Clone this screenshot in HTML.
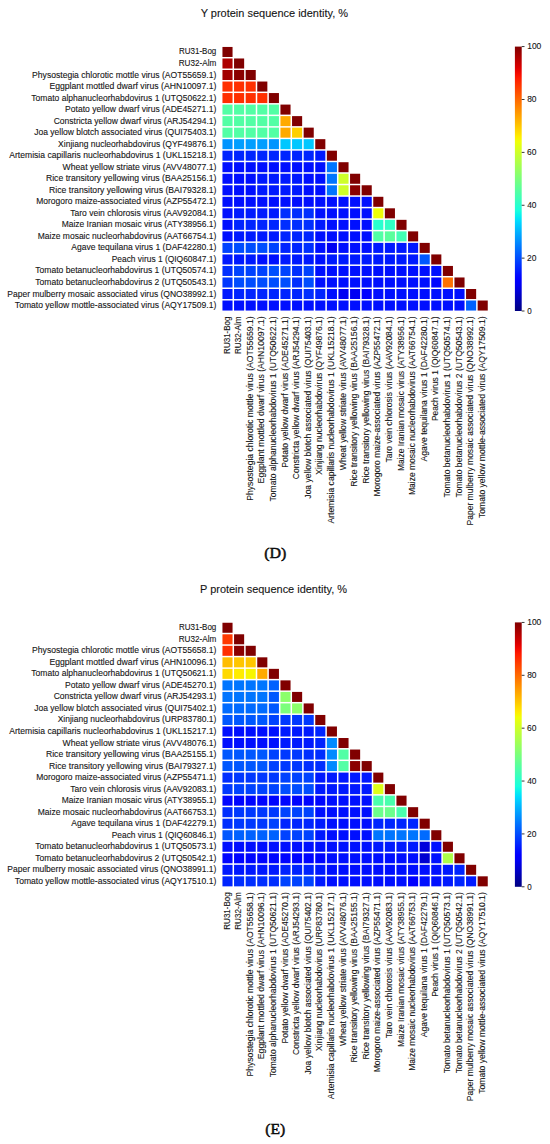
<!DOCTYPE html><html><head><meta charset="utf-8"><style>html,body{margin:0;padding:0;background:#fff;}svg{display:block;}text{font-family:"Liberation Sans",sans-serif;fill:#151515;stroke:#151515;stroke-width:0.1px;}.serif{font-family:"Liberation Serif",serif;stroke:#000;stroke-width:0.45px;}</style></head><body>
<svg width="550" height="1144" viewBox="0 0 550 1144">
<rect x="0" y="0" width="550" height="1144" fill="#fff"/>
<defs><linearGradient id="jet" x1="0" y1="0" x2="0" y2="1"><stop offset="0.00" stop-color="#800000"/><stop offset="0.02" stop-color="#970000"/><stop offset="0.04" stop-color="#ae0000"/><stop offset="0.06" stop-color="#c50000"/><stop offset="0.08" stop-color="#dc0000"/><stop offset="0.10" stop-color="#f30900"/><stop offset="0.12" stop-color="#ff1c00"/><stop offset="0.14" stop-color="#ff2f00"/><stop offset="0.16" stop-color="#ff4200"/><stop offset="0.18" stop-color="#ff5500"/><stop offset="0.20" stop-color="#ff6800"/><stop offset="0.22" stop-color="#ff7b00"/><stop offset="0.24" stop-color="#ff8e00"/><stop offset="0.26" stop-color="#ffa100"/><stop offset="0.28" stop-color="#ffb300"/><stop offset="0.30" stop-color="#ffc600"/><stop offset="0.32" stop-color="#ffd900"/><stop offset="0.34" stop-color="#ffec00"/><stop offset="0.36" stop-color="#efff08"/><stop offset="0.38" stop-color="#deff19"/><stop offset="0.40" stop-color="#ceff29"/><stop offset="0.42" stop-color="#bdff3a"/><stop offset="0.44" stop-color="#adff4a"/><stop offset="0.46" stop-color="#9cff5a"/><stop offset="0.48" stop-color="#8cff6b"/><stop offset="0.50" stop-color="#7bff7b"/><stop offset="0.52" stop-color="#6bff8c"/><stop offset="0.54" stop-color="#5aff9c"/><stop offset="0.56" stop-color="#4affad"/><stop offset="0.58" stop-color="#3affbd"/><stop offset="0.60" stop-color="#29ffce"/><stop offset="0.62" stop-color="#19ffde"/><stop offset="0.64" stop-color="#08f0ef"/><stop offset="0.66" stop-color="#00dbff"/><stop offset="0.68" stop-color="#00c7ff"/><stop offset="0.70" stop-color="#00b2ff"/><stop offset="0.72" stop-color="#009eff"/><stop offset="0.74" stop-color="#008aff"/><stop offset="0.76" stop-color="#0075ff"/><stop offset="0.78" stop-color="#0061ff"/><stop offset="0.80" stop-color="#004dff"/><stop offset="0.82" stop-color="#0038ff"/><stop offset="0.84" stop-color="#0024ff"/><stop offset="0.86" stop-color="#000fff"/><stop offset="0.88" stop-color="#0000ff"/><stop offset="0.90" stop-color="#0000f3"/><stop offset="0.92" stop-color="#0000dc"/><stop offset="0.94" stop-color="#0000c5"/><stop offset="0.96" stop-color="#0000ae"/><stop offset="0.98" stop-color="#000097"/><stop offset="1.00" stop-color="#000080"/></linearGradient></defs>
<text x="200.66" y="16.70" font-size="10.00" textLength="147.36" lengthAdjust="spacingAndGlyphs" fill="#1a1a1a">Y protein sequence identity, %</text>
<g><rect x="222.45" y="46.95" width="10.10" height="10.03" fill="#800000"/><rect x="222.45" y="58.48" width="10.10" height="10.03" fill="#ae0000"/><rect x="234.05" y="58.48" width="10.10" height="10.03" fill="#800000"/><rect x="222.45" y="70.00" width="10.10" height="10.03" fill="#a20000"/><rect x="234.05" y="70.00" width="10.10" height="10.03" fill="#8b0000"/><rect x="245.65" y="70.00" width="10.10" height="10.03" fill="#800000"/><rect x="222.45" y="81.53" width="10.10" height="10.03" fill="#ff2f00"/><rect x="234.05" y="81.53" width="10.10" height="10.03" fill="#ff2f00"/><rect x="245.65" y="81.53" width="10.10" height="10.03" fill="#ff2f00"/><rect x="257.25" y="81.53" width="10.10" height="10.03" fill="#800000"/><rect x="222.45" y="93.05" width="10.10" height="10.03" fill="#ff2f00"/><rect x="234.05" y="93.05" width="10.10" height="10.03" fill="#ff2f00"/><rect x="245.65" y="93.05" width="10.10" height="10.03" fill="#ff2f00"/><rect x="257.25" y="93.05" width="10.10" height="10.03" fill="#ff2f00"/><rect x="268.85" y="93.05" width="10.10" height="10.03" fill="#800000"/><rect x="222.45" y="104.58" width="10.10" height="10.03" fill="#52ffa5"/><rect x="234.05" y="104.58" width="10.10" height="10.03" fill="#52ffa5"/><rect x="245.65" y="104.58" width="10.10" height="10.03" fill="#52ffa5"/><rect x="257.25" y="104.58" width="10.10" height="10.03" fill="#52ffa5"/><rect x="268.85" y="104.58" width="10.10" height="10.03" fill="#52ffa5"/><rect x="280.45" y="104.58" width="10.10" height="10.03" fill="#800000"/><rect x="222.45" y="116.11" width="10.10" height="10.03" fill="#52ffa5"/><rect x="234.05" y="116.11" width="10.10" height="10.03" fill="#52ffa5"/><rect x="245.65" y="116.11" width="10.10" height="10.03" fill="#52ffa5"/><rect x="257.25" y="116.11" width="10.10" height="10.03" fill="#52ffa5"/><rect x="268.85" y="116.11" width="10.10" height="10.03" fill="#52ffa5"/><rect x="280.45" y="116.11" width="10.10" height="10.03" fill="#ffaa00"/><rect x="292.05" y="116.11" width="10.10" height="10.03" fill="#800000"/><rect x="222.45" y="127.63" width="10.10" height="10.03" fill="#52ffa5"/><rect x="234.05" y="127.63" width="10.10" height="10.03" fill="#52ffa5"/><rect x="245.65" y="127.63" width="10.10" height="10.03" fill="#52ffa5"/><rect x="257.25" y="127.63" width="10.10" height="10.03" fill="#52ffa5"/><rect x="268.85" y="127.63" width="10.10" height="10.03" fill="#52ffa5"/><rect x="280.45" y="127.63" width="10.10" height="10.03" fill="#ffaa00"/><rect x="292.05" y="127.63" width="10.10" height="10.03" fill="#ffd000"/><rect x="303.65" y="127.63" width="10.10" height="10.03" fill="#800000"/><rect x="222.45" y="139.16" width="10.10" height="10.03" fill="#0094ff"/><rect x="234.05" y="139.16" width="10.10" height="10.03" fill="#009eff"/><rect x="245.65" y="139.16" width="10.10" height="10.03" fill="#009eff"/><rect x="257.25" y="139.16" width="10.10" height="10.03" fill="#009eff"/><rect x="268.85" y="139.16" width="10.10" height="10.03" fill="#0094ff"/><rect x="280.45" y="139.16" width="10.10" height="10.03" fill="#00c7ff"/><rect x="292.05" y="139.16" width="10.10" height="10.03" fill="#00c7ff"/><rect x="303.65" y="139.16" width="10.10" height="10.03" fill="#00c7ff"/><rect x="315.25" y="139.16" width="10.10" height="10.03" fill="#800000"/><rect x="222.45" y="150.68" width="10.10" height="10.03" fill="#0024ff"/><rect x="234.05" y="150.68" width="10.10" height="10.03" fill="#0024ff"/><rect x="245.65" y="150.68" width="10.10" height="10.03" fill="#0024ff"/><rect x="257.25" y="150.68" width="10.10" height="10.03" fill="#0024ff"/><rect x="268.85" y="150.68" width="10.10" height="10.03" fill="#0024ff"/><rect x="280.45" y="150.68" width="10.10" height="10.03" fill="#0024ff"/><rect x="292.05" y="150.68" width="10.10" height="10.03" fill="#0024ff"/><rect x="303.65" y="150.68" width="10.10" height="10.03" fill="#0024ff"/><rect x="315.25" y="150.68" width="10.10" height="10.03" fill="#0019ff"/><rect x="326.85" y="150.68" width="10.10" height="10.03" fill="#800000"/><rect x="222.45" y="162.21" width="10.10" height="10.03" fill="#000fff"/><rect x="234.05" y="162.21" width="10.10" height="10.03" fill="#000fff"/><rect x="245.65" y="162.21" width="10.10" height="10.03" fill="#000fff"/><rect x="257.25" y="162.21" width="10.10" height="10.03" fill="#000fff"/><rect x="268.85" y="162.21" width="10.10" height="10.03" fill="#000fff"/><rect x="280.45" y="162.21" width="10.10" height="10.03" fill="#000fff"/><rect x="292.05" y="162.21" width="10.10" height="10.03" fill="#000fff"/><rect x="303.65" y="162.21" width="10.10" height="10.03" fill="#000fff"/><rect x="315.25" y="162.21" width="10.10" height="10.03" fill="#000fff"/><rect x="326.85" y="162.21" width="10.10" height="10.03" fill="#0075ff"/><rect x="338.45" y="162.21" width="10.10" height="10.03" fill="#800000"/><rect x="222.45" y="173.74" width="10.10" height="10.03" fill="#000fff"/><rect x="234.05" y="173.74" width="10.10" height="10.03" fill="#000fff"/><rect x="245.65" y="173.74" width="10.10" height="10.03" fill="#000fff"/><rect x="257.25" y="173.74" width="10.10" height="10.03" fill="#0019ff"/><rect x="268.85" y="173.74" width="10.10" height="10.03" fill="#0019ff"/><rect x="280.45" y="173.74" width="10.10" height="10.03" fill="#0019ff"/><rect x="292.05" y="173.74" width="10.10" height="10.03" fill="#0019ff"/><rect x="303.65" y="173.74" width="10.10" height="10.03" fill="#000fff"/><rect x="315.25" y="173.74" width="10.10" height="10.03" fill="#000fff"/><rect x="326.85" y="173.74" width="10.10" height="10.03" fill="#0075ff"/><rect x="338.45" y="173.74" width="10.10" height="10.03" fill="#ceff29"/><rect x="350.05" y="173.74" width="10.10" height="10.03" fill="#800000"/><rect x="222.45" y="185.26" width="10.10" height="10.03" fill="#000fff"/><rect x="234.05" y="185.26" width="10.10" height="10.03" fill="#000fff"/><rect x="245.65" y="185.26" width="10.10" height="10.03" fill="#000fff"/><rect x="257.25" y="185.26" width="10.10" height="10.03" fill="#0019ff"/><rect x="268.85" y="185.26" width="10.10" height="10.03" fill="#0019ff"/><rect x="280.45" y="185.26" width="10.10" height="10.03" fill="#0019ff"/><rect x="292.05" y="185.26" width="10.10" height="10.03" fill="#0019ff"/><rect x="303.65" y="185.26" width="10.10" height="10.03" fill="#000fff"/><rect x="315.25" y="185.26" width="10.10" height="10.03" fill="#000fff"/><rect x="326.85" y="185.26" width="10.10" height="10.03" fill="#0075ff"/><rect x="338.45" y="185.26" width="10.10" height="10.03" fill="#ceff29"/><rect x="350.05" y="185.26" width="10.10" height="10.03" fill="#8b0000"/><rect x="361.65" y="185.26" width="10.10" height="10.03" fill="#800000"/><rect x="222.45" y="196.79" width="10.10" height="10.03" fill="#000fff"/><rect x="234.05" y="196.79" width="10.10" height="10.03" fill="#000fff"/><rect x="245.65" y="196.79" width="10.10" height="10.03" fill="#000fff"/><rect x="257.25" y="196.79" width="10.10" height="10.03" fill="#000fff"/><rect x="268.85" y="196.79" width="10.10" height="10.03" fill="#000fff"/><rect x="280.45" y="196.79" width="10.10" height="10.03" fill="#000fff"/><rect x="292.05" y="196.79" width="10.10" height="10.03" fill="#000fff"/><rect x="303.65" y="196.79" width="10.10" height="10.03" fill="#000fff"/><rect x="315.25" y="196.79" width="10.10" height="10.03" fill="#000fff"/><rect x="326.85" y="196.79" width="10.10" height="10.03" fill="#000fff"/><rect x="338.45" y="196.79" width="10.10" height="10.03" fill="#000fff"/><rect x="350.05" y="196.79" width="10.10" height="10.03" fill="#000fff"/><rect x="361.65" y="196.79" width="10.10" height="10.03" fill="#000fff"/><rect x="373.25" y="196.79" width="10.10" height="10.03" fill="#800000"/><rect x="222.45" y="208.31" width="10.10" height="10.03" fill="#000fff"/><rect x="234.05" y="208.31" width="10.10" height="10.03" fill="#0019ff"/><rect x="245.65" y="208.31" width="10.10" height="10.03" fill="#0019ff"/><rect x="257.25" y="208.31" width="10.10" height="10.03" fill="#0019ff"/><rect x="268.85" y="208.31" width="10.10" height="10.03" fill="#0019ff"/><rect x="280.45" y="208.31" width="10.10" height="10.03" fill="#002eff"/><rect x="292.05" y="208.31" width="10.10" height="10.03" fill="#002eff"/><rect x="303.65" y="208.31" width="10.10" height="10.03" fill="#002eff"/><rect x="315.25" y="208.31" width="10.10" height="10.03" fill="#000fff"/><rect x="326.85" y="208.31" width="10.10" height="10.03" fill="#000fff"/><rect x="338.45" y="208.31" width="10.10" height="10.03" fill="#000fff"/><rect x="350.05" y="208.31" width="10.10" height="10.03" fill="#000fff"/><rect x="361.65" y="208.31" width="10.10" height="10.03" fill="#000fff"/><rect x="373.25" y="208.31" width="10.10" height="10.03" fill="#efff08"/><rect x="384.85" y="208.31" width="10.10" height="10.03" fill="#800000"/><rect x="222.45" y="219.84" width="10.10" height="10.03" fill="#000fff"/><rect x="234.05" y="219.84" width="10.10" height="10.03" fill="#0024ff"/><rect x="245.65" y="219.84" width="10.10" height="10.03" fill="#0024ff"/><rect x="257.25" y="219.84" width="10.10" height="10.03" fill="#0024ff"/><rect x="268.85" y="219.84" width="10.10" height="10.03" fill="#0024ff"/><rect x="280.45" y="219.84" width="10.10" height="10.03" fill="#002eff"/><rect x="292.05" y="219.84" width="10.10" height="10.03" fill="#002eff"/><rect x="303.65" y="219.84" width="10.10" height="10.03" fill="#002eff"/><rect x="315.25" y="219.84" width="10.10" height="10.03" fill="#0019ff"/><rect x="326.85" y="219.84" width="10.10" height="10.03" fill="#000fff"/><rect x="338.45" y="219.84" width="10.10" height="10.03" fill="#000fff"/><rect x="350.05" y="219.84" width="10.10" height="10.03" fill="#000fff"/><rect x="361.65" y="219.84" width="10.10" height="10.03" fill="#000fff"/><rect x="373.25" y="219.84" width="10.10" height="10.03" fill="#29ffce"/><rect x="384.85" y="219.84" width="10.10" height="10.03" fill="#31ffc5"/><rect x="396.45" y="219.84" width="10.10" height="10.03" fill="#800000"/><rect x="222.45" y="231.37" width="10.10" height="10.03" fill="#000fff"/><rect x="234.05" y="231.37" width="10.10" height="10.03" fill="#0019ff"/><rect x="245.65" y="231.37" width="10.10" height="10.03" fill="#0019ff"/><rect x="257.25" y="231.37" width="10.10" height="10.03" fill="#0019ff"/><rect x="268.85" y="231.37" width="10.10" height="10.03" fill="#0019ff"/><rect x="280.45" y="231.37" width="10.10" height="10.03" fill="#0024ff"/><rect x="292.05" y="231.37" width="10.10" height="10.03" fill="#0024ff"/><rect x="303.65" y="231.37" width="10.10" height="10.03" fill="#0024ff"/><rect x="315.25" y="231.37" width="10.10" height="10.03" fill="#000fff"/><rect x="326.85" y="231.37" width="10.10" height="10.03" fill="#000fff"/><rect x="338.45" y="231.37" width="10.10" height="10.03" fill="#000fff"/><rect x="350.05" y="231.37" width="10.10" height="10.03" fill="#000fff"/><rect x="361.65" y="231.37" width="10.10" height="10.03" fill="#000fff"/><rect x="373.25" y="231.37" width="10.10" height="10.03" fill="#52ffa5"/><rect x="384.85" y="231.37" width="10.10" height="10.03" fill="#5aff9c"/><rect x="396.45" y="231.37" width="10.10" height="10.03" fill="#42ffb5"/><rect x="408.05" y="231.37" width="10.10" height="10.03" fill="#800000"/><rect x="222.45" y="242.89" width="10.10" height="10.03" fill="#0042ff"/><rect x="234.05" y="242.89" width="10.10" height="10.03" fill="#004dff"/><rect x="245.65" y="242.89" width="10.10" height="10.03" fill="#004dff"/><rect x="257.25" y="242.89" width="10.10" height="10.03" fill="#004dff"/><rect x="268.85" y="242.89" width="10.10" height="10.03" fill="#0042ff"/><rect x="280.45" y="242.89" width="10.10" height="10.03" fill="#0024ff"/><rect x="292.05" y="242.89" width="10.10" height="10.03" fill="#0024ff"/><rect x="303.65" y="242.89" width="10.10" height="10.03" fill="#002eff"/><rect x="315.25" y="242.89" width="10.10" height="10.03" fill="#000fff"/><rect x="326.85" y="242.89" width="10.10" height="10.03" fill="#0000f3"/><rect x="338.45" y="242.89" width="10.10" height="10.03" fill="#000fff"/><rect x="350.05" y="242.89" width="10.10" height="10.03" fill="#000fff"/><rect x="361.65" y="242.89" width="10.10" height="10.03" fill="#000fff"/><rect x="373.25" y="242.89" width="10.10" height="10.03" fill="#0019ff"/><rect x="384.85" y="242.89" width="10.10" height="10.03" fill="#0019ff"/><rect x="396.45" y="242.89" width="10.10" height="10.03" fill="#0019ff"/><rect x="408.05" y="242.89" width="10.10" height="10.03" fill="#0019ff"/><rect x="419.65" y="242.89" width="10.10" height="10.03" fill="#800000"/><rect x="222.45" y="254.42" width="10.10" height="10.03" fill="#0019ff"/><rect x="234.05" y="254.42" width="10.10" height="10.03" fill="#0019ff"/><rect x="245.65" y="254.42" width="10.10" height="10.03" fill="#0019ff"/><rect x="257.25" y="254.42" width="10.10" height="10.03" fill="#000fff"/><rect x="268.85" y="254.42" width="10.10" height="10.03" fill="#000fff"/><rect x="280.45" y="254.42" width="10.10" height="10.03" fill="#0019ff"/><rect x="292.05" y="254.42" width="10.10" height="10.03" fill="#0019ff"/><rect x="303.65" y="254.42" width="10.10" height="10.03" fill="#0019ff"/><rect x="315.25" y="254.42" width="10.10" height="10.03" fill="#000fff"/><rect x="326.85" y="254.42" width="10.10" height="10.03" fill="#0019ff"/><rect x="338.45" y="254.42" width="10.10" height="10.03" fill="#0019ff"/><rect x="350.05" y="254.42" width="10.10" height="10.03" fill="#0019ff"/><rect x="361.65" y="254.42" width="10.10" height="10.03" fill="#0019ff"/><rect x="373.25" y="254.42" width="10.10" height="10.03" fill="#0019ff"/><rect x="384.85" y="254.42" width="10.10" height="10.03" fill="#0019ff"/><rect x="396.45" y="254.42" width="10.10" height="10.03" fill="#0019ff"/><rect x="408.05" y="254.42" width="10.10" height="10.03" fill="#0019ff"/><rect x="419.65" y="254.42" width="10.10" height="10.03" fill="#0057ff"/><rect x="431.25" y="254.42" width="10.10" height="10.03" fill="#800000"/><rect x="222.45" y="265.94" width="10.10" height="10.03" fill="#002eff"/><rect x="234.05" y="265.94" width="10.10" height="10.03" fill="#0042ff"/><rect x="245.65" y="265.94" width="10.10" height="10.03" fill="#0042ff"/><rect x="257.25" y="265.94" width="10.10" height="10.03" fill="#0042ff"/><rect x="268.85" y="265.94" width="10.10" height="10.03" fill="#004dff"/><rect x="280.45" y="265.94" width="10.10" height="10.03" fill="#0042ff"/><rect x="292.05" y="265.94" width="10.10" height="10.03" fill="#002eff"/><rect x="303.65" y="265.94" width="10.10" height="10.03" fill="#0042ff"/><rect x="315.25" y="265.94" width="10.10" height="10.03" fill="#000fff"/><rect x="326.85" y="265.94" width="10.10" height="10.03" fill="#000fff"/><rect x="338.45" y="265.94" width="10.10" height="10.03" fill="#000fff"/><rect x="350.05" y="265.94" width="10.10" height="10.03" fill="#000fff"/><rect x="361.65" y="265.94" width="10.10" height="10.03" fill="#000fff"/><rect x="373.25" y="265.94" width="10.10" height="10.03" fill="#000fff"/><rect x="384.85" y="265.94" width="10.10" height="10.03" fill="#000fff"/><rect x="396.45" y="265.94" width="10.10" height="10.03" fill="#000fff"/><rect x="408.05" y="265.94" width="10.10" height="10.03" fill="#000fff"/><rect x="419.65" y="265.94" width="10.10" height="10.03" fill="#000fff"/><rect x="431.25" y="265.94" width="10.10" height="10.03" fill="#000fff"/><rect x="442.85" y="265.94" width="10.10" height="10.03" fill="#800000"/><rect x="222.45" y="277.47" width="10.10" height="10.03" fill="#0038ff"/><rect x="234.05" y="277.47" width="10.10" height="10.03" fill="#004dff"/><rect x="245.65" y="277.47" width="10.10" height="10.03" fill="#004dff"/><rect x="257.25" y="277.47" width="10.10" height="10.03" fill="#004dff"/><rect x="268.85" y="277.47" width="10.10" height="10.03" fill="#004dff"/><rect x="280.45" y="277.47" width="10.10" height="10.03" fill="#004dff"/><rect x="292.05" y="277.47" width="10.10" height="10.03" fill="#002eff"/><rect x="303.65" y="277.47" width="10.10" height="10.03" fill="#004dff"/><rect x="315.25" y="277.47" width="10.10" height="10.03" fill="#000fff"/><rect x="326.85" y="277.47" width="10.10" height="10.03" fill="#000fff"/><rect x="338.45" y="277.47" width="10.10" height="10.03" fill="#000fff"/><rect x="350.05" y="277.47" width="10.10" height="10.03" fill="#000fff"/><rect x="361.65" y="277.47" width="10.10" height="10.03" fill="#000fff"/><rect x="373.25" y="277.47" width="10.10" height="10.03" fill="#000fff"/><rect x="384.85" y="277.47" width="10.10" height="10.03" fill="#000fff"/><rect x="396.45" y="277.47" width="10.10" height="10.03" fill="#000fff"/><rect x="408.05" y="277.47" width="10.10" height="10.03" fill="#000fff"/><rect x="419.65" y="277.47" width="10.10" height="10.03" fill="#000fff"/><rect x="431.25" y="277.47" width="10.10" height="10.03" fill="#0005ff"/><rect x="442.85" y="277.47" width="10.10" height="10.03" fill="#ff7100"/><rect x="454.45" y="277.47" width="10.10" height="10.03" fill="#800000"/><rect x="222.45" y="289.00" width="10.10" height="10.03" fill="#0019ff"/><rect x="234.05" y="289.00" width="10.10" height="10.03" fill="#0024ff"/><rect x="245.65" y="289.00" width="10.10" height="10.03" fill="#0024ff"/><rect x="257.25" y="289.00" width="10.10" height="10.03" fill="#0024ff"/><rect x="268.85" y="289.00" width="10.10" height="10.03" fill="#0024ff"/><rect x="280.45" y="289.00" width="10.10" height="10.03" fill="#0024ff"/><rect x="292.05" y="289.00" width="10.10" height="10.03" fill="#0024ff"/><rect x="303.65" y="289.00" width="10.10" height="10.03" fill="#002eff"/><rect x="315.25" y="289.00" width="10.10" height="10.03" fill="#0024ff"/><rect x="326.85" y="289.00" width="10.10" height="10.03" fill="#000fff"/><rect x="338.45" y="289.00" width="10.10" height="10.03" fill="#0000f3"/><rect x="350.05" y="289.00" width="10.10" height="10.03" fill="#0000f3"/><rect x="361.65" y="289.00" width="10.10" height="10.03" fill="#0000ff"/><rect x="373.25" y="289.00" width="10.10" height="10.03" fill="#000fff"/><rect x="384.85" y="289.00" width="10.10" height="10.03" fill="#000fff"/><rect x="396.45" y="289.00" width="10.10" height="10.03" fill="#000fff"/><rect x="408.05" y="289.00" width="10.10" height="10.03" fill="#000fff"/><rect x="419.65" y="289.00" width="10.10" height="10.03" fill="#000fff"/><rect x="431.25" y="289.00" width="10.10" height="10.03" fill="#000fff"/><rect x="442.85" y="289.00" width="10.10" height="10.03" fill="#000fff"/><rect x="454.45" y="289.00" width="10.10" height="10.03" fill="#000fff"/><rect x="466.05" y="289.00" width="10.10" height="10.03" fill="#800000"/><rect x="222.45" y="300.52" width="10.10" height="10.03" fill="#000fff"/><rect x="234.05" y="300.52" width="10.10" height="10.03" fill="#000fff"/><rect x="245.65" y="300.52" width="10.10" height="10.03" fill="#000fff"/><rect x="257.25" y="300.52" width="10.10" height="10.03" fill="#000fff"/><rect x="268.85" y="300.52" width="10.10" height="10.03" fill="#000fff"/><rect x="280.45" y="300.52" width="10.10" height="10.03" fill="#000fff"/><rect x="292.05" y="300.52" width="10.10" height="10.03" fill="#000fff"/><rect x="303.65" y="300.52" width="10.10" height="10.03" fill="#000fff"/><rect x="315.25" y="300.52" width="10.10" height="10.03" fill="#000fff"/><rect x="326.85" y="300.52" width="10.10" height="10.03" fill="#000fff"/><rect x="338.45" y="300.52" width="10.10" height="10.03" fill="#000fff"/><rect x="350.05" y="300.52" width="10.10" height="10.03" fill="#000fff"/><rect x="361.65" y="300.52" width="10.10" height="10.03" fill="#000fff"/><rect x="373.25" y="300.52" width="10.10" height="10.03" fill="#000fff"/><rect x="384.85" y="300.52" width="10.10" height="10.03" fill="#000fff"/><rect x="396.45" y="300.52" width="10.10" height="10.03" fill="#000fff"/><rect x="408.05" y="300.52" width="10.10" height="10.03" fill="#000fff"/><rect x="419.65" y="300.52" width="10.10" height="10.03" fill="#000fff"/><rect x="431.25" y="300.52" width="10.10" height="10.03" fill="#000fff"/><rect x="442.85" y="300.52" width="10.10" height="10.03" fill="#000fff"/><rect x="454.45" y="300.52" width="10.10" height="10.03" fill="#000fff"/><rect x="466.05" y="300.52" width="10.10" height="10.03" fill="#0061ff"/><rect x="477.65" y="300.52" width="10.10" height="10.03" fill="#800000"/></g>
<text x="216.32" y="54.46" font-size="8.20" text-anchor="end" textLength="37.41" lengthAdjust="spacingAndGlyphs">RU31-Bog</text>
<text x="216.34" y="65.99" font-size="8.20" text-anchor="end" textLength="37.62" lengthAdjust="spacingAndGlyphs">RU32-Alm</text>
<text x="216.33" y="77.52" font-size="8.20" text-anchor="end" textLength="184.21" lengthAdjust="spacingAndGlyphs">Physostegia chlorotic mottle virus (AOT55659.1)</text>
<text x="216.34" y="89.04" font-size="8.20" text-anchor="end" textLength="166.94" lengthAdjust="spacingAndGlyphs">Eggplant mottled dwarf virus (AHN10097.1)</text>
<text x="216.33" y="100.57" font-size="8.20" text-anchor="end" textLength="185.00" lengthAdjust="spacingAndGlyphs">Tomato alphanucleorhabdovirus 1 (UTQ50622.1)</text>
<text x="216.33" y="112.09" font-size="8.20" text-anchor="end" textLength="151.20" lengthAdjust="spacingAndGlyphs">Potato yellow dwarf virus (ADE45271.1)</text>
<text x="216.33" y="123.62" font-size="8.20" text-anchor="end" textLength="162.66" lengthAdjust="spacingAndGlyphs">Constricta yellow dwarf virus (ARJ54294.1)</text>
<text x="216.33" y="135.14" font-size="8.20" text-anchor="end" textLength="182.16" lengthAdjust="spacingAndGlyphs">Joa yellow blotch associated virus (QUI75403.1)</text>
<text x="216.33" y="146.67" font-size="8.20" text-anchor="end" textLength="158.20" lengthAdjust="spacingAndGlyphs">Xinjiang nucleorhabdovirus (QYF49876.1)</text>
<text x="216.33" y="158.20" font-size="8.20" text-anchor="end" textLength="207.07" lengthAdjust="spacingAndGlyphs">Artemisia capillaris nucleorhabdovirus 1 (UKL15218.1)</text>
<text x="216.33" y="169.72" font-size="8.20" text-anchor="end" textLength="153.70" lengthAdjust="spacingAndGlyphs">Wheat yellow striate virus (AVV48077.1)</text>
<text x="216.34" y="181.25" font-size="8.20" text-anchor="end" textLength="170.36" lengthAdjust="spacingAndGlyphs">Rice transitory yellowing virus (BAA25156.1)</text>
<text x="216.34" y="192.77" font-size="8.20" text-anchor="end" textLength="167.20" lengthAdjust="spacingAndGlyphs">Rice transitory yellowing virus (BAI79328.1)</text>
<text x="216.33" y="204.30" font-size="8.20" text-anchor="end" textLength="180.05" lengthAdjust="spacingAndGlyphs">Morogoro maize-associated virus (AZP55472.1)</text>
<text x="216.33" y="215.83" font-size="8.20" text-anchor="end" textLength="146.08" lengthAdjust="spacingAndGlyphs">Taro vein chlorosis virus (AAV92084.1)</text>
<text x="216.32" y="227.35" font-size="8.20" text-anchor="end" textLength="154.62" lengthAdjust="spacingAndGlyphs">Maize Iranian mosaic virus (ATY38956.1)</text>
<text x="216.33" y="238.88" font-size="8.20" text-anchor="end" textLength="178.56" lengthAdjust="spacingAndGlyphs">Maize mosaic nucleorhabdovirus (AAT66754.1)</text>
<text x="216.33" y="250.40" font-size="8.20" text-anchor="end" textLength="145.00" lengthAdjust="spacingAndGlyphs">Agave tequilana virus 1 (DAF42280.1)</text>
<text x="216.32" y="261.93" font-size="8.20" text-anchor="end" textLength="104.60" lengthAdjust="spacingAndGlyphs">Peach virus 1 (QIQ60847.1)</text>
<text x="216.34" y="273.46" font-size="8.20" text-anchor="end" textLength="181.08" lengthAdjust="spacingAndGlyphs">Tomato betanucleorhabdovirus 1 (UTQ50574.1)</text>
<text x="216.34" y="284.98" font-size="8.20" text-anchor="end" textLength="181.08" lengthAdjust="spacingAndGlyphs">Tomato betanucleorhabdovirus 2 (UTQ50543.1)</text>
<text x="216.33" y="296.51" font-size="8.20" text-anchor="end" textLength="209.01" lengthAdjust="spacingAndGlyphs">Paper mulberry mosaic associated virus (QNO38992.1)</text>
<text x="216.34" y="308.03" font-size="8.20" text-anchor="end" textLength="201.47" lengthAdjust="spacingAndGlyphs">Tomato yellow mottle-associated virus (AQY17509.1)</text>
<text transform="translate(229.50 316.48) rotate(-90)" font-size="8.20" text-anchor="end" textLength="37.41" lengthAdjust="spacingAndGlyphs">RU31-Bog</text>
<text transform="translate(241.10 316.46) rotate(-90)" font-size="8.20" text-anchor="end" textLength="37.62" lengthAdjust="spacingAndGlyphs">RU32-Alm</text>
<text transform="translate(252.70 316.47) rotate(-90)" font-size="8.20" text-anchor="end" textLength="184.21" lengthAdjust="spacingAndGlyphs">Physostegia chlorotic mottle virus (AOT55659.1)</text>
<text transform="translate(264.30 316.46) rotate(-90)" font-size="8.20" text-anchor="end" textLength="166.94" lengthAdjust="spacingAndGlyphs">Eggplant mottled dwarf virus (AHN10097.1)</text>
<text transform="translate(275.90 316.47) rotate(-90)" font-size="8.20" text-anchor="end" textLength="185.00" lengthAdjust="spacingAndGlyphs">Tomato alphanucleorhabdovirus 1 (UTQ50622.1)</text>
<text transform="translate(287.50 316.47) rotate(-90)" font-size="8.20" text-anchor="end" textLength="151.20" lengthAdjust="spacingAndGlyphs">Potato yellow dwarf virus (ADE45271.1)</text>
<text transform="translate(299.10 316.47) rotate(-90)" font-size="8.20" text-anchor="end" textLength="162.66" lengthAdjust="spacingAndGlyphs">Constricta yellow dwarf virus (ARJ54294.1)</text>
<text transform="translate(310.70 316.47) rotate(-90)" font-size="8.20" text-anchor="end" textLength="182.16" lengthAdjust="spacingAndGlyphs">Joa yellow blotch associated virus (QUI75403.1)</text>
<text transform="translate(322.30 316.47) rotate(-90)" font-size="8.20" text-anchor="end" textLength="158.20" lengthAdjust="spacingAndGlyphs">Xinjiang nucleorhabdovirus (QYF49876.1)</text>
<text transform="translate(333.90 316.47) rotate(-90)" font-size="8.20" text-anchor="end" textLength="207.07" lengthAdjust="spacingAndGlyphs">Artemisia capillaris nucleorhabdovirus 1 (UKL15218.1)</text>
<text transform="translate(345.50 316.47) rotate(-90)" font-size="8.20" text-anchor="end" textLength="153.70" lengthAdjust="spacingAndGlyphs">Wheat yellow striate virus (AVV48077.1)</text>
<text transform="translate(357.10 316.46) rotate(-90)" font-size="8.20" text-anchor="end" textLength="170.36" lengthAdjust="spacingAndGlyphs">Rice transitory yellowing virus (BAA25156.1)</text>
<text transform="translate(368.70 316.46) rotate(-90)" font-size="8.20" text-anchor="end" textLength="167.20" lengthAdjust="spacingAndGlyphs">Rice transitory yellowing virus (BAI79328.1)</text>
<text transform="translate(380.30 316.47) rotate(-90)" font-size="8.20" text-anchor="end" textLength="180.05" lengthAdjust="spacingAndGlyphs">Morogoro maize-associated virus (AZP55472.1)</text>
<text transform="translate(391.90 316.47) rotate(-90)" font-size="8.20" text-anchor="end" textLength="146.08" lengthAdjust="spacingAndGlyphs">Taro vein chlorosis virus (AAV92084.1)</text>
<text transform="translate(403.50 316.48) rotate(-90)" font-size="8.20" text-anchor="end" textLength="154.62" lengthAdjust="spacingAndGlyphs">Maize Iranian mosaic virus (ATY38956.1)</text>
<text transform="translate(415.10 316.47) rotate(-90)" font-size="8.20" text-anchor="end" textLength="178.56" lengthAdjust="spacingAndGlyphs">Maize mosaic nucleorhabdovirus (AAT66754.1)</text>
<text transform="translate(426.70 316.47) rotate(-90)" font-size="8.20" text-anchor="end" textLength="145.00" lengthAdjust="spacingAndGlyphs">Agave tequilana virus 1 (DAF42280.1)</text>
<text transform="translate(438.30 316.48) rotate(-90)" font-size="8.20" text-anchor="end" textLength="104.60" lengthAdjust="spacingAndGlyphs">Peach virus 1 (QIQ60847.1)</text>
<text transform="translate(449.90 316.46) rotate(-90)" font-size="8.20" text-anchor="end" textLength="181.08" lengthAdjust="spacingAndGlyphs">Tomato betanucleorhabdovirus 1 (UTQ50574.1)</text>
<text transform="translate(461.50 316.46) rotate(-90)" font-size="8.20" text-anchor="end" textLength="181.08" lengthAdjust="spacingAndGlyphs">Tomato betanucleorhabdovirus 2 (UTQ50543.1)</text>
<text transform="translate(473.10 316.47) rotate(-90)" font-size="8.20" text-anchor="end" textLength="209.01" lengthAdjust="spacingAndGlyphs">Paper mulberry mosaic associated virus (QNO38992.1)</text>
<text transform="translate(484.70 316.46) rotate(-90)" font-size="8.20" text-anchor="end" textLength="201.47" lengthAdjust="spacingAndGlyphs">Tomato yellow mottle-associated virus (AQY17509.1)</text>
<rect x="514.90" y="46.60" width="6.80" height="264.40" fill="url(#jet)"/>
<rect x="521.70" y="46.15" width="2.80" height="0.9" fill="#222"/>
<text x="527.19" y="49.30" font-size="8.20" textLength="14.14" lengthAdjust="spacingAndGlyphs">100</text>
<rect x="521.70" y="99.03" width="2.80" height="0.9" fill="#222"/>
<text x="527.15" y="102.18" font-size="8.20" textLength="9.34" lengthAdjust="spacingAndGlyphs">80</text>
<rect x="521.70" y="151.91" width="2.80" height="0.9" fill="#222"/>
<text x="527.10" y="155.06" font-size="8.20" textLength="9.39" lengthAdjust="spacingAndGlyphs">60</text>
<rect x="521.70" y="204.79" width="2.80" height="0.9" fill="#222"/>
<text x="527.18" y="207.94" font-size="8.20" textLength="9.31" lengthAdjust="spacingAndGlyphs">40</text>
<rect x="521.70" y="257.67" width="2.80" height="0.9" fill="#222"/>
<text x="527.13" y="260.82" font-size="8.20" textLength="9.36" lengthAdjust="spacingAndGlyphs">20</text>
<rect x="521.70" y="310.55" width="2.80" height="0.9" fill="#222"/>
<text x="527.19" y="313.70" font-size="8.20" textLength="4.46" lengthAdjust="spacingAndGlyphs">0</text>
<text class="serif" x="275.20" y="558.20" font-size="15.00" text-anchor="middle" textLength="22.10" lengthAdjust="spacingAndGlyphs" fill="#000">(D)</text>
<text x="200.00" y="592.50" font-size="10.00" textLength="146.98" lengthAdjust="spacingAndGlyphs" fill="#1a1a1a">P protein sequence identity, %</text>
<g><rect x="222.45" y="622.75" width="10.10" height="10.03" fill="#800000"/><rect x="222.45" y="634.28" width="10.10" height="10.03" fill="#ff3900"/><rect x="234.05" y="634.28" width="10.10" height="10.03" fill="#800000"/><rect x="222.45" y="645.80" width="10.10" height="10.03" fill="#ff2f00"/><rect x="234.05" y="645.80" width="10.10" height="10.03" fill="#8b0000"/><rect x="245.65" y="645.80" width="10.10" height="10.03" fill="#800000"/><rect x="222.45" y="657.33" width="10.10" height="10.03" fill="#ffbd00"/><rect x="234.05" y="657.33" width="10.10" height="10.03" fill="#ffc600"/><rect x="245.65" y="657.33" width="10.10" height="10.03" fill="#ffc600"/><rect x="257.25" y="657.33" width="10.10" height="10.03" fill="#800000"/><rect x="222.45" y="668.85" width="10.10" height="10.03" fill="#ffd900"/><rect x="234.05" y="668.85" width="10.10" height="10.03" fill="#ffec00"/><rect x="245.65" y="668.85" width="10.10" height="10.03" fill="#f7f600"/><rect x="257.25" y="668.85" width="10.10" height="10.03" fill="#ffaa00"/><rect x="268.85" y="668.85" width="10.10" height="10.03" fill="#800000"/><rect x="222.45" y="680.38" width="10.10" height="10.03" fill="#0075ff"/><rect x="234.05" y="680.38" width="10.10" height="10.03" fill="#0075ff"/><rect x="245.65" y="680.38" width="10.10" height="10.03" fill="#0075ff"/><rect x="257.25" y="680.38" width="10.10" height="10.03" fill="#0075ff"/><rect x="268.85" y="680.38" width="10.10" height="10.03" fill="#0061ff"/><rect x="280.45" y="680.38" width="10.10" height="10.03" fill="#800000"/><rect x="222.45" y="691.91" width="10.10" height="10.03" fill="#0075ff"/><rect x="234.05" y="691.91" width="10.10" height="10.03" fill="#0075ff"/><rect x="245.65" y="691.91" width="10.10" height="10.03" fill="#0075ff"/><rect x="257.25" y="691.91" width="10.10" height="10.03" fill="#0075ff"/><rect x="268.85" y="691.91" width="10.10" height="10.03" fill="#0057ff"/><rect x="280.45" y="691.91" width="10.10" height="10.03" fill="#8cff6b"/><rect x="292.05" y="691.91" width="10.10" height="10.03" fill="#800000"/><rect x="222.45" y="703.43" width="10.10" height="10.03" fill="#006bff"/><rect x="234.05" y="703.43" width="10.10" height="10.03" fill="#006bff"/><rect x="245.65" y="703.43" width="10.10" height="10.03" fill="#006bff"/><rect x="257.25" y="703.43" width="10.10" height="10.03" fill="#006bff"/><rect x="268.85" y="703.43" width="10.10" height="10.03" fill="#0057ff"/><rect x="280.45" y="703.43" width="10.10" height="10.03" fill="#7bff7b"/><rect x="292.05" y="703.43" width="10.10" height="10.03" fill="#8cff6b"/><rect x="303.65" y="703.43" width="10.10" height="10.03" fill="#800000"/><rect x="222.45" y="714.96" width="10.10" height="10.03" fill="#0057ff"/><rect x="234.05" y="714.96" width="10.10" height="10.03" fill="#0057ff"/><rect x="245.65" y="714.96" width="10.10" height="10.03" fill="#0057ff"/><rect x="257.25" y="714.96" width="10.10" height="10.03" fill="#0057ff"/><rect x="268.85" y="714.96" width="10.10" height="10.03" fill="#0042ff"/><rect x="280.45" y="714.96" width="10.10" height="10.03" fill="#0038ff"/><rect x="292.05" y="714.96" width="10.10" height="10.03" fill="#0038ff"/><rect x="303.65" y="714.96" width="10.10" height="10.03" fill="#0038ff"/><rect x="315.25" y="714.96" width="10.10" height="10.03" fill="#800000"/><rect x="222.45" y="726.48" width="10.10" height="10.03" fill="#000fff"/><rect x="234.05" y="726.48" width="10.10" height="10.03" fill="#000fff"/><rect x="245.65" y="726.48" width="10.10" height="10.03" fill="#000fff"/><rect x="257.25" y="726.48" width="10.10" height="10.03" fill="#000fff"/><rect x="268.85" y="726.48" width="10.10" height="10.03" fill="#000fff"/><rect x="280.45" y="726.48" width="10.10" height="10.03" fill="#0019ff"/><rect x="292.05" y="726.48" width="10.10" height="10.03" fill="#0019ff"/><rect x="303.65" y="726.48" width="10.10" height="10.03" fill="#0019ff"/><rect x="315.25" y="726.48" width="10.10" height="10.03" fill="#0024ff"/><rect x="326.85" y="726.48" width="10.10" height="10.03" fill="#800000"/><rect x="222.45" y="738.01" width="10.10" height="10.03" fill="#000fff"/><rect x="234.05" y="738.01" width="10.10" height="10.03" fill="#000fff"/><rect x="245.65" y="738.01" width="10.10" height="10.03" fill="#000fff"/><rect x="257.25" y="738.01" width="10.10" height="10.03" fill="#000fff"/><rect x="268.85" y="738.01" width="10.10" height="10.03" fill="#000fff"/><rect x="280.45" y="738.01" width="10.10" height="10.03" fill="#0019ff"/><rect x="292.05" y="738.01" width="10.10" height="10.03" fill="#0019ff"/><rect x="303.65" y="738.01" width="10.10" height="10.03" fill="#0019ff"/><rect x="315.25" y="738.01" width="10.10" height="10.03" fill="#0024ff"/><rect x="326.85" y="738.01" width="10.10" height="10.03" fill="#008aff"/><rect x="338.45" y="738.01" width="10.10" height="10.03" fill="#800000"/><rect x="222.45" y="749.54" width="10.10" height="10.03" fill="#0057ff"/><rect x="234.05" y="749.54" width="10.10" height="10.03" fill="#0057ff"/><rect x="245.65" y="749.54" width="10.10" height="10.03" fill="#0057ff"/><rect x="257.25" y="749.54" width="10.10" height="10.03" fill="#0057ff"/><rect x="268.85" y="749.54" width="10.10" height="10.03" fill="#0042ff"/><rect x="280.45" y="749.54" width="10.10" height="10.03" fill="#0038ff"/><rect x="292.05" y="749.54" width="10.10" height="10.03" fill="#0038ff"/><rect x="303.65" y="749.54" width="10.10" height="10.03" fill="#002eff"/><rect x="315.25" y="749.54" width="10.10" height="10.03" fill="#002eff"/><rect x="326.85" y="749.54" width="10.10" height="10.03" fill="#008aff"/><rect x="338.45" y="749.54" width="10.10" height="10.03" fill="#52ffa5"/><rect x="350.05" y="749.54" width="10.10" height="10.03" fill="#800000"/><rect x="222.45" y="761.06" width="10.10" height="10.03" fill="#0057ff"/><rect x="234.05" y="761.06" width="10.10" height="10.03" fill="#0057ff"/><rect x="245.65" y="761.06" width="10.10" height="10.03" fill="#0057ff"/><rect x="257.25" y="761.06" width="10.10" height="10.03" fill="#0057ff"/><rect x="268.85" y="761.06" width="10.10" height="10.03" fill="#0042ff"/><rect x="280.45" y="761.06" width="10.10" height="10.03" fill="#0038ff"/><rect x="292.05" y="761.06" width="10.10" height="10.03" fill="#0038ff"/><rect x="303.65" y="761.06" width="10.10" height="10.03" fill="#002eff"/><rect x="315.25" y="761.06" width="10.10" height="10.03" fill="#002eff"/><rect x="326.85" y="761.06" width="10.10" height="10.03" fill="#008aff"/><rect x="338.45" y="761.06" width="10.10" height="10.03" fill="#52ffa5"/><rect x="350.05" y="761.06" width="10.10" height="10.03" fill="#8b0000"/><rect x="361.65" y="761.06" width="10.10" height="10.03" fill="#800000"/><rect x="222.45" y="772.59" width="10.10" height="10.03" fill="#002eff"/><rect x="234.05" y="772.59" width="10.10" height="10.03" fill="#0038ff"/><rect x="245.65" y="772.59" width="10.10" height="10.03" fill="#0038ff"/><rect x="257.25" y="772.59" width="10.10" height="10.03" fill="#0038ff"/><rect x="268.85" y="772.59" width="10.10" height="10.03" fill="#0038ff"/><rect x="280.45" y="772.59" width="10.10" height="10.03" fill="#0042ff"/><rect x="292.05" y="772.59" width="10.10" height="10.03" fill="#0042ff"/><rect x="303.65" y="772.59" width="10.10" height="10.03" fill="#0042ff"/><rect x="315.25" y="772.59" width="10.10" height="10.03" fill="#0019ff"/><rect x="326.85" y="772.59" width="10.10" height="10.03" fill="#0019ff"/><rect x="338.45" y="772.59" width="10.10" height="10.03" fill="#0019ff"/><rect x="350.05" y="772.59" width="10.10" height="10.03" fill="#0019ff"/><rect x="361.65" y="772.59" width="10.10" height="10.03" fill="#0019ff"/><rect x="373.25" y="772.59" width="10.10" height="10.03" fill="#800000"/><rect x="222.45" y="784.11" width="10.10" height="10.03" fill="#0038ff"/><rect x="234.05" y="784.11" width="10.10" height="10.03" fill="#0042ff"/><rect x="245.65" y="784.11" width="10.10" height="10.03" fill="#0042ff"/><rect x="257.25" y="784.11" width="10.10" height="10.03" fill="#0042ff"/><rect x="268.85" y="784.11" width="10.10" height="10.03" fill="#0042ff"/><rect x="280.45" y="784.11" width="10.10" height="10.03" fill="#004dff"/><rect x="292.05" y="784.11" width="10.10" height="10.03" fill="#004dff"/><rect x="303.65" y="784.11" width="10.10" height="10.03" fill="#004dff"/><rect x="315.25" y="784.11" width="10.10" height="10.03" fill="#0019ff"/><rect x="326.85" y="784.11" width="10.10" height="10.03" fill="#0019ff"/><rect x="338.45" y="784.11" width="10.10" height="10.03" fill="#0019ff"/><rect x="350.05" y="784.11" width="10.10" height="10.03" fill="#0019ff"/><rect x="361.65" y="784.11" width="10.10" height="10.03" fill="#0019ff"/><rect x="373.25" y="784.11" width="10.10" height="10.03" fill="#deff19"/><rect x="384.85" y="784.11" width="10.10" height="10.03" fill="#800000"/><rect x="222.45" y="795.64" width="10.10" height="10.03" fill="#0005ff"/><rect x="234.05" y="795.64" width="10.10" height="10.03" fill="#0005ff"/><rect x="245.65" y="795.64" width="10.10" height="10.03" fill="#0005ff"/><rect x="257.25" y="795.64" width="10.10" height="10.03" fill="#0005ff"/><rect x="268.85" y="795.64" width="10.10" height="10.03" fill="#0005ff"/><rect x="280.45" y="795.64" width="10.10" height="10.03" fill="#0005ff"/><rect x="292.05" y="795.64" width="10.10" height="10.03" fill="#0005ff"/><rect x="303.65" y="795.64" width="10.10" height="10.03" fill="#0005ff"/><rect x="315.25" y="795.64" width="10.10" height="10.03" fill="#0005ff"/><rect x="326.85" y="795.64" width="10.10" height="10.03" fill="#000fff"/><rect x="338.45" y="795.64" width="10.10" height="10.03" fill="#000fff"/><rect x="350.05" y="795.64" width="10.10" height="10.03" fill="#000fff"/><rect x="361.65" y="795.64" width="10.10" height="10.03" fill="#000fff"/><rect x="373.25" y="795.64" width="10.10" height="10.03" fill="#4affad"/><rect x="384.85" y="795.64" width="10.10" height="10.03" fill="#4affad"/><rect x="396.45" y="795.64" width="10.10" height="10.03" fill="#800000"/><rect x="222.45" y="807.17" width="10.10" height="10.03" fill="#002eff"/><rect x="234.05" y="807.17" width="10.10" height="10.03" fill="#0038ff"/><rect x="245.65" y="807.17" width="10.10" height="10.03" fill="#0038ff"/><rect x="257.25" y="807.17" width="10.10" height="10.03" fill="#0038ff"/><rect x="268.85" y="807.17" width="10.10" height="10.03" fill="#0038ff"/><rect x="280.45" y="807.17" width="10.10" height="10.03" fill="#0042ff"/><rect x="292.05" y="807.17" width="10.10" height="10.03" fill="#0042ff"/><rect x="303.65" y="807.17" width="10.10" height="10.03" fill="#0042ff"/><rect x="315.25" y="807.17" width="10.10" height="10.03" fill="#000fff"/><rect x="326.85" y="807.17" width="10.10" height="10.03" fill="#000fff"/><rect x="338.45" y="807.17" width="10.10" height="10.03" fill="#000fff"/><rect x="350.05" y="807.17" width="10.10" height="10.03" fill="#000fff"/><rect x="361.65" y="807.17" width="10.10" height="10.03" fill="#000fff"/><rect x="373.25" y="807.17" width="10.10" height="10.03" fill="#6bff8c"/><rect x="384.85" y="807.17" width="10.10" height="10.03" fill="#6bff8c"/><rect x="396.45" y="807.17" width="10.10" height="10.03" fill="#4affad"/><rect x="408.05" y="807.17" width="10.10" height="10.03" fill="#800000"/><rect x="222.45" y="818.69" width="10.10" height="10.03" fill="#002eff"/><rect x="234.05" y="818.69" width="10.10" height="10.03" fill="#0038ff"/><rect x="245.65" y="818.69" width="10.10" height="10.03" fill="#0038ff"/><rect x="257.25" y="818.69" width="10.10" height="10.03" fill="#0038ff"/><rect x="268.85" y="818.69" width="10.10" height="10.03" fill="#0042ff"/><rect x="280.45" y="818.69" width="10.10" height="10.03" fill="#0024ff"/><rect x="292.05" y="818.69" width="10.10" height="10.03" fill="#0024ff"/><rect x="303.65" y="818.69" width="10.10" height="10.03" fill="#0024ff"/><rect x="315.25" y="818.69" width="10.10" height="10.03" fill="#0019ff"/><rect x="326.85" y="818.69" width="10.10" height="10.03" fill="#000fff"/><rect x="338.45" y="818.69" width="10.10" height="10.03" fill="#000fff"/><rect x="350.05" y="818.69" width="10.10" height="10.03" fill="#000fff"/><rect x="361.65" y="818.69" width="10.10" height="10.03" fill="#000fff"/><rect x="373.25" y="818.69" width="10.10" height="10.03" fill="#0024ff"/><rect x="384.85" y="818.69" width="10.10" height="10.03" fill="#0024ff"/><rect x="396.45" y="818.69" width="10.10" height="10.03" fill="#0024ff"/><rect x="408.05" y="818.69" width="10.10" height="10.03" fill="#0024ff"/><rect x="419.65" y="818.69" width="10.10" height="10.03" fill="#800000"/><rect x="222.45" y="830.22" width="10.10" height="10.03" fill="#0057ff"/><rect x="234.05" y="830.22" width="10.10" height="10.03" fill="#0061ff"/><rect x="245.65" y="830.22" width="10.10" height="10.03" fill="#0061ff"/><rect x="257.25" y="830.22" width="10.10" height="10.03" fill="#0061ff"/><rect x="268.85" y="830.22" width="10.10" height="10.03" fill="#0061ff"/><rect x="280.45" y="830.22" width="10.10" height="10.03" fill="#0042ff"/><rect x="292.05" y="830.22" width="10.10" height="10.03" fill="#0042ff"/><rect x="303.65" y="830.22" width="10.10" height="10.03" fill="#0042ff"/><rect x="315.25" y="830.22" width="10.10" height="10.03" fill="#0019ff"/><rect x="326.85" y="830.22" width="10.10" height="10.03" fill="#000fff"/><rect x="338.45" y="830.22" width="10.10" height="10.03" fill="#000fff"/><rect x="350.05" y="830.22" width="10.10" height="10.03" fill="#000fff"/><rect x="361.65" y="830.22" width="10.10" height="10.03" fill="#000fff"/><rect x="373.25" y="830.22" width="10.10" height="10.03" fill="#0075ff"/><rect x="384.85" y="830.22" width="10.10" height="10.03" fill="#0075ff"/><rect x="396.45" y="830.22" width="10.10" height="10.03" fill="#0075ff"/><rect x="408.05" y="830.22" width="10.10" height="10.03" fill="#0075ff"/><rect x="419.65" y="830.22" width="10.10" height="10.03" fill="#006bff"/><rect x="431.25" y="830.22" width="10.10" height="10.03" fill="#800000"/><rect x="222.45" y="841.74" width="10.10" height="10.03" fill="#000fff"/><rect x="234.05" y="841.74" width="10.10" height="10.03" fill="#000fff"/><rect x="245.65" y="841.74" width="10.10" height="10.03" fill="#000fff"/><rect x="257.25" y="841.74" width="10.10" height="10.03" fill="#000fff"/><rect x="268.85" y="841.74" width="10.10" height="10.03" fill="#000fff"/><rect x="280.45" y="841.74" width="10.10" height="10.03" fill="#000fff"/><rect x="292.05" y="841.74" width="10.10" height="10.03" fill="#000fff"/><rect x="303.65" y="841.74" width="10.10" height="10.03" fill="#000fff"/><rect x="315.25" y="841.74" width="10.10" height="10.03" fill="#000fff"/><rect x="326.85" y="841.74" width="10.10" height="10.03" fill="#000fff"/><rect x="338.45" y="841.74" width="10.10" height="10.03" fill="#000fff"/><rect x="350.05" y="841.74" width="10.10" height="10.03" fill="#000fff"/><rect x="361.65" y="841.74" width="10.10" height="10.03" fill="#000fff"/><rect x="373.25" y="841.74" width="10.10" height="10.03" fill="#0019ff"/><rect x="384.85" y="841.74" width="10.10" height="10.03" fill="#0019ff"/><rect x="396.45" y="841.74" width="10.10" height="10.03" fill="#0019ff"/><rect x="408.05" y="841.74" width="10.10" height="10.03" fill="#0019ff"/><rect x="419.65" y="841.74" width="10.10" height="10.03" fill="#0000dc"/><rect x="431.25" y="841.74" width="10.10" height="10.03" fill="#000fff"/><rect x="442.85" y="841.74" width="10.10" height="10.03" fill="#800000"/><rect x="222.45" y="853.27" width="10.10" height="10.03" fill="#0005ff"/><rect x="234.05" y="853.27" width="10.10" height="10.03" fill="#0005ff"/><rect x="245.65" y="853.27" width="10.10" height="10.03" fill="#0005ff"/><rect x="257.25" y="853.27" width="10.10" height="10.03" fill="#0005ff"/><rect x="268.85" y="853.27" width="10.10" height="10.03" fill="#0005ff"/><rect x="280.45" y="853.27" width="10.10" height="10.03" fill="#0005ff"/><rect x="292.05" y="853.27" width="10.10" height="10.03" fill="#0005ff"/><rect x="303.65" y="853.27" width="10.10" height="10.03" fill="#0005ff"/><rect x="315.25" y="853.27" width="10.10" height="10.03" fill="#0005ff"/><rect x="326.85" y="853.27" width="10.10" height="10.03" fill="#000fff"/><rect x="338.45" y="853.27" width="10.10" height="10.03" fill="#000fff"/><rect x="350.05" y="853.27" width="10.10" height="10.03" fill="#000fff"/><rect x="361.65" y="853.27" width="10.10" height="10.03" fill="#000fff"/><rect x="373.25" y="853.27" width="10.10" height="10.03" fill="#000fff"/><rect x="384.85" y="853.27" width="10.10" height="10.03" fill="#000fff"/><rect x="396.45" y="853.27" width="10.10" height="10.03" fill="#000fff"/><rect x="408.05" y="853.27" width="10.10" height="10.03" fill="#000fff"/><rect x="419.65" y="853.27" width="10.10" height="10.03" fill="#0000d1"/><rect x="431.25" y="853.27" width="10.10" height="10.03" fill="#000fff"/><rect x="442.85" y="853.27" width="10.10" height="10.03" fill="#adff4a"/><rect x="454.45" y="853.27" width="10.10" height="10.03" fill="#800000"/><rect x="222.45" y="864.80" width="10.10" height="10.03" fill="#0019ff"/><rect x="234.05" y="864.80" width="10.10" height="10.03" fill="#0019ff"/><rect x="245.65" y="864.80" width="10.10" height="10.03" fill="#0019ff"/><rect x="257.25" y="864.80" width="10.10" height="10.03" fill="#0019ff"/><rect x="268.85" y="864.80" width="10.10" height="10.03" fill="#0019ff"/><rect x="280.45" y="864.80" width="10.10" height="10.03" fill="#0024ff"/><rect x="292.05" y="864.80" width="10.10" height="10.03" fill="#0024ff"/><rect x="303.65" y="864.80" width="10.10" height="10.03" fill="#0024ff"/><rect x="315.25" y="864.80" width="10.10" height="10.03" fill="#0019ff"/><rect x="326.85" y="864.80" width="10.10" height="10.03" fill="#000fff"/><rect x="338.45" y="864.80" width="10.10" height="10.03" fill="#000fff"/><rect x="350.05" y="864.80" width="10.10" height="10.03" fill="#000fff"/><rect x="361.65" y="864.80" width="10.10" height="10.03" fill="#000fff"/><rect x="373.25" y="864.80" width="10.10" height="10.03" fill="#000fff"/><rect x="384.85" y="864.80" width="10.10" height="10.03" fill="#000fff"/><rect x="396.45" y="864.80" width="10.10" height="10.03" fill="#000fff"/><rect x="408.05" y="864.80" width="10.10" height="10.03" fill="#000fff"/><rect x="419.65" y="864.80" width="10.10" height="10.03" fill="#000fff"/><rect x="431.25" y="864.80" width="10.10" height="10.03" fill="#000fff"/><rect x="442.85" y="864.80" width="10.10" height="10.03" fill="#0019ff"/><rect x="454.45" y="864.80" width="10.10" height="10.03" fill="#0024ff"/><rect x="466.05" y="864.80" width="10.10" height="10.03" fill="#800000"/><rect x="222.45" y="876.32" width="10.10" height="10.03" fill="#0024ff"/><rect x="234.05" y="876.32" width="10.10" height="10.03" fill="#002eff"/><rect x="245.65" y="876.32" width="10.10" height="10.03" fill="#002eff"/><rect x="257.25" y="876.32" width="10.10" height="10.03" fill="#002eff"/><rect x="268.85" y="876.32" width="10.10" height="10.03" fill="#002eff"/><rect x="280.45" y="876.32" width="10.10" height="10.03" fill="#0042ff"/><rect x="292.05" y="876.32" width="10.10" height="10.03" fill="#0042ff"/><rect x="303.65" y="876.32" width="10.10" height="10.03" fill="#0042ff"/><rect x="315.25" y="876.32" width="10.10" height="10.03" fill="#0019ff"/><rect x="326.85" y="876.32" width="10.10" height="10.03" fill="#000fff"/><rect x="338.45" y="876.32" width="10.10" height="10.03" fill="#000fff"/><rect x="350.05" y="876.32" width="10.10" height="10.03" fill="#000fff"/><rect x="361.65" y="876.32" width="10.10" height="10.03" fill="#000fff"/><rect x="373.25" y="876.32" width="10.10" height="10.03" fill="#000fff"/><rect x="384.85" y="876.32" width="10.10" height="10.03" fill="#000fff"/><rect x="396.45" y="876.32" width="10.10" height="10.03" fill="#000fff"/><rect x="408.05" y="876.32" width="10.10" height="10.03" fill="#0000ff"/><rect x="419.65" y="876.32" width="10.10" height="10.03" fill="#000fff"/><rect x="431.25" y="876.32" width="10.10" height="10.03" fill="#000fff"/><rect x="442.85" y="876.32" width="10.10" height="10.03" fill="#0019ff"/><rect x="454.45" y="876.32" width="10.10" height="10.03" fill="#0024ff"/><rect x="466.05" y="876.32" width="10.10" height="10.03" fill="#0019ff"/><rect x="477.65" y="876.32" width="10.10" height="10.03" fill="#800000"/></g>
<text x="216.32" y="630.26" font-size="8.20" text-anchor="end" textLength="37.41" lengthAdjust="spacingAndGlyphs">RU31-Bog</text>
<text x="216.34" y="641.79" font-size="8.20" text-anchor="end" textLength="37.62" lengthAdjust="spacingAndGlyphs">RU32-Alm</text>
<text x="216.33" y="653.32" font-size="8.20" text-anchor="end" textLength="184.21" lengthAdjust="spacingAndGlyphs">Physostegia chlorotic mottle virus (AOT55658.1)</text>
<text x="216.34" y="664.84" font-size="8.20" text-anchor="end" textLength="166.94" lengthAdjust="spacingAndGlyphs">Eggplant mottled dwarf virus (AHN10096.1)</text>
<text x="216.33" y="676.37" font-size="8.20" text-anchor="end" textLength="185.00" lengthAdjust="spacingAndGlyphs">Tomato alphanucleorhabdovirus 1 (UTQ50621.1)</text>
<text x="216.33" y="687.89" font-size="8.20" text-anchor="end" textLength="151.20" lengthAdjust="spacingAndGlyphs">Potato yellow dwarf virus (ADE45270.1)</text>
<text x="216.33" y="699.42" font-size="8.20" text-anchor="end" textLength="162.66" lengthAdjust="spacingAndGlyphs">Constricta yellow dwarf virus (ARJ54293.1)</text>
<text x="216.33" y="710.94" font-size="8.20" text-anchor="end" textLength="182.16" lengthAdjust="spacingAndGlyphs">Joa yellow blotch associated virus (QUI75402.1)</text>
<text x="216.33" y="722.47" font-size="8.20" text-anchor="end" textLength="158.63" lengthAdjust="spacingAndGlyphs">Xinjiang nucleorhabdovirus (URP83780.1)</text>
<text x="216.33" y="734.00" font-size="8.20" text-anchor="end" textLength="207.07" lengthAdjust="spacingAndGlyphs">Artemisia capillaris nucleorhabdovirus 1 (UKL15217.1)</text>
<text x="216.33" y="745.52" font-size="8.20" text-anchor="end" textLength="153.70" lengthAdjust="spacingAndGlyphs">Wheat yellow striate virus (AVV48076.1)</text>
<text x="216.34" y="757.05" font-size="8.20" text-anchor="end" textLength="170.36" lengthAdjust="spacingAndGlyphs">Rice transitory yellowing virus (BAA25155.1)</text>
<text x="216.34" y="768.58" font-size="8.20" text-anchor="end" textLength="167.20" lengthAdjust="spacingAndGlyphs">Rice transitory yellowing virus (BAI79327.1)</text>
<text x="216.33" y="780.10" font-size="8.20" text-anchor="end" textLength="180.05" lengthAdjust="spacingAndGlyphs">Morogoro maize-associated virus (AZP55471.1)</text>
<text x="216.33" y="791.63" font-size="8.20" text-anchor="end" textLength="146.08" lengthAdjust="spacingAndGlyphs">Taro vein chlorosis virus (AAV92083.1)</text>
<text x="216.32" y="803.15" font-size="8.20" text-anchor="end" textLength="154.62" lengthAdjust="spacingAndGlyphs">Maize Iranian mosaic virus (ATY38955.1)</text>
<text x="216.33" y="814.68" font-size="8.20" text-anchor="end" textLength="178.56" lengthAdjust="spacingAndGlyphs">Maize mosaic nucleorhabdovirus (AAT66753.1)</text>
<text x="216.33" y="826.20" font-size="8.20" text-anchor="end" textLength="145.00" lengthAdjust="spacingAndGlyphs">Agave tequilana virus 1 (DAF42279.1)</text>
<text x="216.32" y="837.73" font-size="8.20" text-anchor="end" textLength="104.60" lengthAdjust="spacingAndGlyphs">Peach virus 1 (QIQ60846.1)</text>
<text x="216.34" y="849.26" font-size="8.20" text-anchor="end" textLength="181.08" lengthAdjust="spacingAndGlyphs">Tomato betanucleorhabdovirus 1 (UTQ50573.1)</text>
<text x="216.34" y="860.78" font-size="8.20" text-anchor="end" textLength="181.08" lengthAdjust="spacingAndGlyphs">Tomato betanucleorhabdovirus 2 (UTQ50542.1)</text>
<text x="216.33" y="872.31" font-size="8.20" text-anchor="end" textLength="209.01" lengthAdjust="spacingAndGlyphs">Paper mulberry mosaic associated virus (QNO38991.1)</text>
<text x="216.34" y="883.84" font-size="8.20" text-anchor="end" textLength="201.47" lengthAdjust="spacingAndGlyphs">Tomato yellow mottle-associated virus (AQY17510.1)</text>
<text transform="translate(229.50 892.28) rotate(-90)" font-size="8.20" text-anchor="end" textLength="37.41" lengthAdjust="spacingAndGlyphs">RU31-Bog</text>
<text transform="translate(241.10 892.26) rotate(-90)" font-size="8.20" text-anchor="end" textLength="37.62" lengthAdjust="spacingAndGlyphs">RU32-Alm</text>
<text transform="translate(252.70 892.27) rotate(-90)" font-size="8.20" text-anchor="end" textLength="184.21" lengthAdjust="spacingAndGlyphs">Physostegia chlorotic mottle virus (AOT55658.1)</text>
<text transform="translate(264.30 892.26) rotate(-90)" font-size="8.20" text-anchor="end" textLength="166.94" lengthAdjust="spacingAndGlyphs">Eggplant mottled dwarf virus (AHN10096.1)</text>
<text transform="translate(275.90 892.27) rotate(-90)" font-size="8.20" text-anchor="end" textLength="185.00" lengthAdjust="spacingAndGlyphs">Tomato alphanucleorhabdovirus 1 (UTQ50621.1)</text>
<text transform="translate(287.50 892.27) rotate(-90)" font-size="8.20" text-anchor="end" textLength="151.20" lengthAdjust="spacingAndGlyphs">Potato yellow dwarf virus (ADE45270.1)</text>
<text transform="translate(299.10 892.27) rotate(-90)" font-size="8.20" text-anchor="end" textLength="162.66" lengthAdjust="spacingAndGlyphs">Constricta yellow dwarf virus (ARJ54293.1)</text>
<text transform="translate(310.70 892.27) rotate(-90)" font-size="8.20" text-anchor="end" textLength="182.16" lengthAdjust="spacingAndGlyphs">Joa yellow blotch associated virus (QUI75402.1)</text>
<text transform="translate(322.30 892.27) rotate(-90)" font-size="8.20" text-anchor="end" textLength="158.63" lengthAdjust="spacingAndGlyphs">Xinjiang nucleorhabdovirus (URP83780.1)</text>
<text transform="translate(333.90 892.27) rotate(-90)" font-size="8.20" text-anchor="end" textLength="207.07" lengthAdjust="spacingAndGlyphs">Artemisia capillaris nucleorhabdovirus 1 (UKL15217.1)</text>
<text transform="translate(345.50 892.27) rotate(-90)" font-size="8.20" text-anchor="end" textLength="153.70" lengthAdjust="spacingAndGlyphs">Wheat yellow striate virus (AVV48076.1)</text>
<text transform="translate(357.10 892.26) rotate(-90)" font-size="8.20" text-anchor="end" textLength="170.36" lengthAdjust="spacingAndGlyphs">Rice transitory yellowing virus (BAA25155.1)</text>
<text transform="translate(368.70 892.26) rotate(-90)" font-size="8.20" text-anchor="end" textLength="167.20" lengthAdjust="spacingAndGlyphs">Rice transitory yellowing virus (BAI79327.1)</text>
<text transform="translate(380.30 892.27) rotate(-90)" font-size="8.20" text-anchor="end" textLength="180.05" lengthAdjust="spacingAndGlyphs">Morogoro maize-associated virus (AZP55471.1)</text>
<text transform="translate(391.90 892.27) rotate(-90)" font-size="8.20" text-anchor="end" textLength="146.08" lengthAdjust="spacingAndGlyphs">Taro vein chlorosis virus (AAV92083.1)</text>
<text transform="translate(403.50 892.28) rotate(-90)" font-size="8.20" text-anchor="end" textLength="154.62" lengthAdjust="spacingAndGlyphs">Maize Iranian mosaic virus (ATY38955.1)</text>
<text transform="translate(415.10 892.27) rotate(-90)" font-size="8.20" text-anchor="end" textLength="178.56" lengthAdjust="spacingAndGlyphs">Maize mosaic nucleorhabdovirus (AAT66753.1)</text>
<text transform="translate(426.70 892.27) rotate(-90)" font-size="8.20" text-anchor="end" textLength="145.00" lengthAdjust="spacingAndGlyphs">Agave tequilana virus 1 (DAF42279.1)</text>
<text transform="translate(438.30 892.28) rotate(-90)" font-size="8.20" text-anchor="end" textLength="104.60" lengthAdjust="spacingAndGlyphs">Peach virus 1 (QIQ60846.1)</text>
<text transform="translate(449.90 892.26) rotate(-90)" font-size="8.20" text-anchor="end" textLength="181.08" lengthAdjust="spacingAndGlyphs">Tomato betanucleorhabdovirus 1 (UTQ50573.1)</text>
<text transform="translate(461.50 892.26) rotate(-90)" font-size="8.20" text-anchor="end" textLength="181.08" lengthAdjust="spacingAndGlyphs">Tomato betanucleorhabdovirus 2 (UTQ50542.1)</text>
<text transform="translate(473.10 892.27) rotate(-90)" font-size="8.20" text-anchor="end" textLength="209.01" lengthAdjust="spacingAndGlyphs">Paper mulberry mosaic associated virus (QNO38991.1)</text>
<text transform="translate(484.70 892.26) rotate(-90)" font-size="8.20" text-anchor="end" textLength="201.47" lengthAdjust="spacingAndGlyphs">Tomato yellow mottle-associated virus (AQY17510.1)</text>
<rect x="514.90" y="622.40" width="6.80" height="264.40" fill="url(#jet)"/>
<rect x="521.70" y="621.95" width="2.80" height="0.9" fill="#222"/>
<text x="527.19" y="625.10" font-size="8.20" textLength="14.14" lengthAdjust="spacingAndGlyphs">100</text>
<rect x="521.70" y="674.83" width="2.80" height="0.9" fill="#222"/>
<text x="527.15" y="677.98" font-size="8.20" textLength="9.34" lengthAdjust="spacingAndGlyphs">80</text>
<rect x="521.70" y="727.71" width="2.80" height="0.9" fill="#222"/>
<text x="527.10" y="730.86" font-size="8.20" textLength="9.39" lengthAdjust="spacingAndGlyphs">60</text>
<rect x="521.70" y="780.59" width="2.80" height="0.9" fill="#222"/>
<text x="527.18" y="783.74" font-size="8.20" textLength="9.31" lengthAdjust="spacingAndGlyphs">40</text>
<rect x="521.70" y="833.47" width="2.80" height="0.9" fill="#222"/>
<text x="527.13" y="836.62" font-size="8.20" textLength="9.36" lengthAdjust="spacingAndGlyphs">20</text>
<rect x="521.70" y="886.35" width="2.80" height="0.9" fill="#222"/>
<text x="527.19" y="889.50" font-size="8.20" textLength="4.46" lengthAdjust="spacingAndGlyphs">0</text>
<text class="serif" x="275.20" y="1134.00" font-size="15.00" text-anchor="middle" textLength="19.97" lengthAdjust="spacingAndGlyphs" fill="#000">(E)</text>
</svg></body></html>
